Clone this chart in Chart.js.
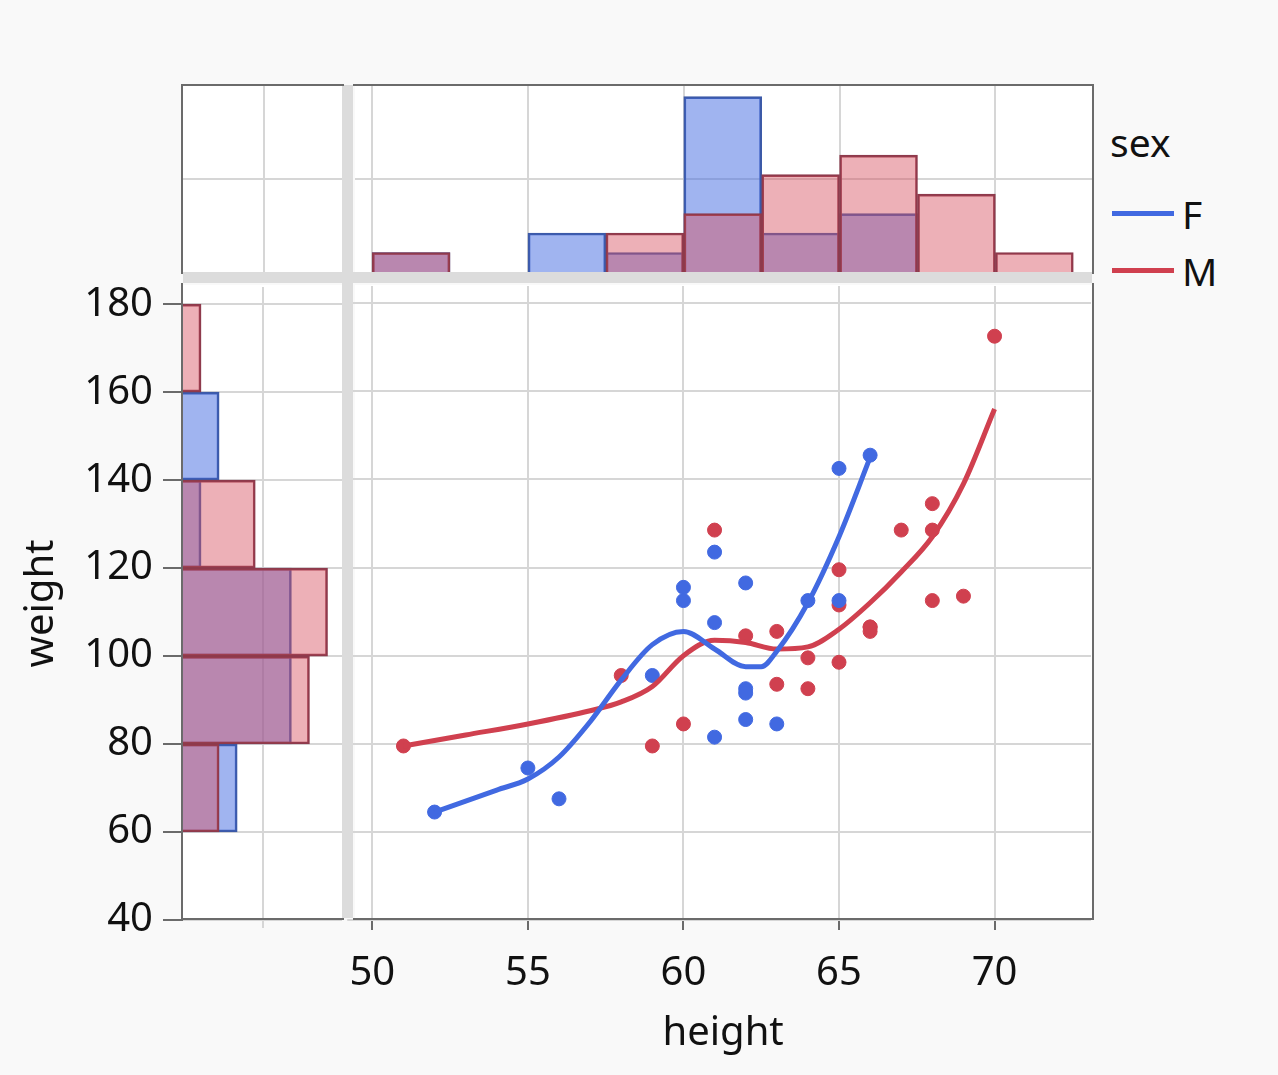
<!DOCTYPE html>
<html>
<head>
<meta charset="utf-8">
<script src="https://cdn.jsdelivr.net/npm/chart.js@4"></script>
<style>
  body { margin: 0; background: #f9f9f9; font-family: "Noto Sans", "Open Sans", sans-serif; }
  #wrap { position: relative; width: 1278px; height: 1075px; }
  canvas { position: absolute; }
  .white { position: absolute; background: #fff; }
  .frame { position: absolute; border: 2px solid #6b6b6b; box-sizing: border-box; pointer-events: none; }
  .sep { position: absolute; background: #dcdcdc; }
  .leg { position: absolute; font-size: 39px; color: #111; }
  .sw { position: absolute; height: 5px; width: 62px; }
</style>
</head>
<body>
<div id="wrap">
  <div class="white" style="left:183px;top:85px;width:159px;height:187px"></div>
  <div class="white" style="left:355px;top:85px;width:737px;height:187px"></div>
  <div class="white" style="left:183px;top:285px;width:159px;height:633px"></div>
  <div class="white" style="left:355px;top:285px;width:737px;height:633px"></div>
  <div style="position:absolute;left:263px;top:85px;width:2px;height:187px;background:#d6d6d6;"></div>
  <div style="position:absolute;left:183px;top:178px;width:159px;height:2px;background:#d6d6d6;"></div>
  <canvas id="top" width="737" height="187" style="left:355px;top:85px"></canvas>
  <canvas id="left" width="342" height="701" style="left:0;top:253px"></canvas>
  <canvas id="main" width="770" height="780" style="left:329px;top:278px"></canvas>
  <div class="sep" style="left:342px;top:85px;width:11px;height:833px"></div>
  <div class="sep" style="left:183px;top:272px;width:909px;height:11px"></div>
  <div class="frame" style="left:181px;top:84px;width:163px;height:190px;border-right:none;border-bottom:none"></div>
  <div class="frame" style="left:353px;top:84px;width:741px;height:190px;border-left:none;border-bottom:none"></div>
  <div class="frame" style="left:181px;top:283px;width:163px;height:637px;border-right:none;border-top:none"></div>
  <div class="frame" style="left:353px;top:283px;width:741px;height:637px;border-left:none;border-top:none"></div>
  <div class="leg" style="left:1110px;top:115px">sex</div>
  <div class="sw" style="left:1112px;top:211px;background:#4169e1"></div>
  <div class="leg" style="left:1182px;top:187px">F</div>
  <div class="sw" style="left:1112px;top:268px;background:#d0404f"></div>
  <div class="leg" style="left:1182px;top:244px">M</div>
</div>
<script>
// height histogram (bin centers, width 2.5)
const heightBins = [51.25, 53.75, 56.25, 58.75, 61.25, 63.75, 66.25, 68.75, 71.25];
const heightCountF = [1, 0, 2, 1, 9, 2, 3, 0, 0];
const heightCountM = [1, 0, 0, 2, 3, 5, 6, 4, 1];
// weight histogram (bin centers, width 20)
const weightBins = [70, 90, 110, 130, 150, 170];
const weightCountF = [3, 6, 6, 1, 2, 0];
const weightCountM = [2, 7, 8, 4, 0, 1];
// raw points
const heightF = [52, 55, 56, 59, 60, 60, 61, 61, 61, 62, 62, 62, 62, 63, 64, 65, 65, 66];
const weightF = [64.5, 74.5, 67.5, 95.5, 115.5, 112.5, 123.5, 107.5, 81.5, 116.5, 92.5, 91.5, 85.5, 84.5, 112.5, 142.5, 112.5, 145.5];
const heightM = [51, 58, 59, 60, 61, 62, 63, 63, 64, 64, 65, 65, 65, 66, 66, 67, 68, 68, 68, 69, 70, 66];
const weightM = [79.5, 95.5, 79.5, 84.5, 128.5, 104.5, 105.5, 93.5, 99.5, 92.5, 119.5, 111.5, 98.5, 106.5, 105.5, 128.5, 134.5, 128.5, 112.5, 113.5, 172.5, 106.5];
// smoother curves
const smoothXF = [52, 53, 54, 55, 56, 57, 58, 59, 60, 61, 62, 62.5, 63, 64, 65, 66];
const smoothYF = [64.5, 67, 69.5, 72, 77, 85, 94.5, 102.5, 105.5, 101.5, 97.5, 97.5, 101, 112, 127, 145];
const smoothXM = [51, 53, 55, 57, 58, 59, 60, 61, 62, 63, 64, 65, 66, 67, 68, 69, 70];
const smoothYM = [79.5, 82, 84.5, 87.5, 89.5, 93, 100, 103.5, 103, 101.5, 102, 106, 112, 119, 127, 139, 156];

const xTicks = [50, 55, 60, 65, 70];
const yTicks = [40, 60, 80, 100, 120, 140, 160, 180];

const blue = '#4169e1', red = '#d0404f';
const fillF = 'rgba(65,105,225,0.5)', fillM = 'rgba(214,80,95,0.45)';
const edgeF = '#3c5aa8', edgeM = '#8e3a4c';
const grid = { color: '#d6d6d6', lineWidth: 2 };
const font = { family: '"Noto Sans", "Open Sans", sans-serif', size: 40 };
const XMIN = 49.45, XMAX = 73.1, YMIN = 40, YMAX = 183.9;
const zip = (xs, ys) => xs.map((x, i) => ({ x: x, y: ys[i] }));
const setTicks = vals => scale => { scale.ticks = vals.map(v => ({ value: v })); };
const base = { responsive: false, animation: false, devicePixelRatio: 1,
  plugins: { legend: { display: false }, tooltip: { enabled: false } } };

new Chart(document.getElementById('top'), {
  type: 'bar',
  data: { datasets: [
    { data: zip(heightBins, heightCountM), backgroundColor: fillM, borderColor: edgeM, borderWidth: 2, grouped: false },
    { data: zip(heightBins, heightCountF), backgroundColor: fillF, borderColor: edgeF, borderWidth: 2, grouped: false }
  ] },
  options: Object.assign({}, base, {
    barPercentage: 1, categoryPercentage: 1,
    layout: { padding: 0 },
    scales: {
      x: { type: 'linear', min: XMIN, max: XMAX, offset: false, grid: Object.assign({ offset: false }, grid), border: { display: false },
           ticks: { display: false }, afterBuildTicks: setTicks(xTicks), afterFit: s => { s.height = 0; } },
      y: { min: 0, max: 9.6, grid: grid, border: { display: false },
           ticks: { display: false }, afterBuildTicks: setTicks([4.8]), afterFit: s => { s.width = 0; } }
    }
  })
});

new Chart(document.getElementById('left'), {
  type: 'bar',
  data: { datasets: [
    { data: weightBins.map((w, i) => ({ y: w, x: weightCountM[i] })), backgroundColor: fillM, borderColor: edgeM, borderWidth: 2, grouped: false },
    { data: weightBins.map((w, i) => ({ y: w, x: weightCountF[i] })), backgroundColor: fillF, borderColor: edgeF, borderWidth: 2, grouped: false }
  ] },
  options: Object.assign({}, base, {
    indexAxis: 'y', barPercentage: 1, categoryPercentage: 1,
    layout: { padding: { top: 20 } },
    scales: {
      x: { type: 'linear', min: 0, max: 8.8, grid: grid, border: { display: false },
           ticks: { display: false }, afterBuildTicks: setTicks([4.4]), afterFit: s => { s.height = 30; } },
      y: { type: 'linear', min: YMIN, max: YMAX, offset: false,
           grid: Object.assign({ offset: false, tickLength: 20, tickColor: '#6b6b6b' }, grid),
           border: { display: false },
           ticks: { color: '#111', font: font, padding: 10 }, afterBuildTicks: setTicks(yTicks),
           title: { display: true, text: 'weight', color: '#111', font: font, padding: { top: 18, bottom: 0 } },
           afterFit: s => { s.width = 183; } }
    }
  })
});

new Chart(document.getElementById('main'), {
  type: 'scatter',
  data: { datasets: [
    { data: zip(smoothXF, smoothYF), showLine: true, borderColor: blue, borderWidth: 5, pointRadius: 0, tension: 0.4, cubicInterpolationMode: 'monotone' },
    { data: zip(smoothXM, smoothYM), showLine: true, borderColor: red, borderWidth: 5, pointRadius: 0, tension: 0.4, cubicInterpolationMode: 'monotone' },
    { data: zip(heightF, weightF), backgroundColor: blue, borderColor: blue, pointRadius: 7 },
    { data: zip(heightM, weightM), backgroundColor: red, borderColor: red, pointRadius: 7 }
  ] },
  options: Object.assign({}, base, {
    layout: { padding: 0 },
    scales: {
      x: { type: 'linear', min: XMIN, max: XMAX, grid: Object.assign({ tickLength: 10, tickColor: '#6b6b6b' }, grid),
           border: { display: false },
           ticks: { color: '#111', font: font, padding: 20 }, afterBuildTicks: setTicks(xTicks),
           title: { display: true, text: 'height', color: '#111', font: font, padding: { top: 14, bottom: 0 } },
           afterFit: s => { s.height = 138; } },
      y: { type: 'linear', min: YMIN, max: YMAX, grid: grid, border: { display: false },
           ticks: { display: false }, afterBuildTicks: setTicks(yTicks), afterFit: s => { s.width = 20; } }
    }
  })
});
</script>
</body>
</html>
